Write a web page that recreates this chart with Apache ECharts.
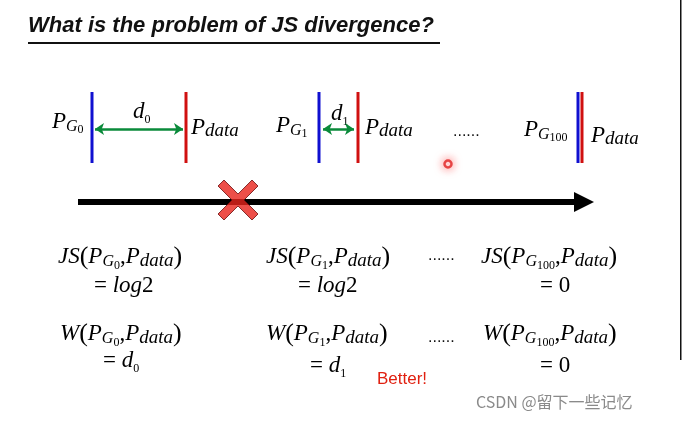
<!DOCTYPE html>
<html><head><meta charset="utf-8">
<script src="https://cdn.jsdelivr.net/npm/echarts@6/dist/echarts.min.js"></script>
<style>html,body{margin:0;padding:0;background:#fff}#c{width:682px;height:422px}</style>
</head><body><div id="c"></div>
<script>
// Slide geometry expressed as data on a hidden pixel-like scale
const genLineX = [92, 319, 578];
const dataLineX = [186, 358, 582];
const lineYRange = [92, 163];
const distArrows = [[95, 183, 129], [323, 354, 129]];
const mainArrow = [78, 584, 202];
const crossPoint = [[238, 200]];
const markerDot = [[448, 164]];

const chart = echarts.init(document.getElementById('c'));
const serif = '"Liberation Serif","DejaVu Serif",serif';
const series = [];
genLineX.forEach(x => series.push({type:'line',symbol:'none',silent:true,lineStyle:{color:'#1010d0',width:3},data:[[x,lineYRange[0]],[x,lineYRange[1]]]}));
dataLineX.forEach(x => series.push({type:'line',symbol:'none',silent:true,lineStyle:{color:'#d01010',width:3},data:[[x,lineYRange[0]],[x,lineYRange[1]]]}));
series.push({type:'lines',coordinateSystem:'cartesian2d',silent:true,symbol:['arrow','arrow'],symbolSize:9,
  lineStyle:{color:'#0a8a3a',width:2.5,opacity:1},data:distArrows.map(a=>({coords:[[a[0],a[2]],[a[1],a[2]]]}))});
series.push({type:'lines',coordinateSystem:'cartesian2d',silent:true,symbol:['none','triangle'],symbolSize:20,
  lineStyle:{color:'#000',width:6,opacity:1},data:[{coords:[[mainArrow[0],mainArrow[2]],[mainArrow[1],mainArrow[2]]]}]});
series.push({type:'scatter',silent:true,symbol:'path://M3,0 L10,7 L17,0 L20,3 L13,10 L20,17 L17,20 L10,13 L3,20 L0,17 L7,10 L0,3 Z',symbolSize:40,itemStyle:{color:'#e8231c',borderColor:'#6a0c0c',borderWidth:1},data:crossPoint,z:5});
series.push({type:'scatter',silent:true,symbol:'circle',symbolSize:7,itemStyle:{color:'#fff',borderColor:'#e02020',borderWidth:2.5,shadowBlur:10,shadowColor:'rgba(255,60,60,0.8)'},data:markerDot});

const rich = {
  p:{fontFamily:serif,fontStyle:'italic',fontSize:23,color:'#111'},
  s:{fontFamily:serif,fontStyle:'italic',fontSize:16,color:'#111',padding:[10,0,0,0]},
  ss:{fontFamily:serif,fontSize:12,color:'#111',padding:[17,0,0,0]},
  d:{fontFamily:serif,fontStyle:'italic',fontSize:19,color:'#111',padding:[7,0,0,0]},
  n:{fontFamily:serif,fontSize:23,color:'#111'},
  ni:{fontFamily:serif,fontStyle:'italic',fontSize:23,color:'#111'},
  pa:{fontFamily:serif,fontSize:26,color:'#111'}
};
function T(x,y,text){return {type:'text',left:x,top:y,style:{text:text,rich:rich}};}
const PG = i => '{p|P}{s|G}{ss|'+i+'}';
const Pd = '{p|P}{d|data}';
const graphics = [
  {type:'text',left:28,top:15,style:{text:'What is the problem of JS divergence?',font:'italic bold 22px "Liberation Sans",Arial,sans-serif',fill:'#111'}},
  {type:'rect',shape:{x:28,y:42,width:412,height:2},style:{fill:'#111'}},
  {type:'rect',shape:{x:680,y:0,width:1.5,height:360},style:{fill:'#111'}},
  T(52,110,PG('0')), T(191,116,Pd), T(133,100,'{p|d}{ss|0}'),
  T(276,114,PG('1')), T(365,116,Pd), T(331,102,'{p|d}{ss|1}'),
  T(524,118,PG('100')), T(591,124,Pd),
  {type:'text',left:453,top:124,style:{text:'......',font:'16px sans-serif',fill:'#111'}},
  T(58,244,'{ni|JS}{pa|(}'+PG('0')+'{n|,}'+Pd+'{pa|)}'), T(94,274,'{n|= }{ni|log}{n|2}'),
  T(266,244,'{ni|JS}{pa|(}'+PG('1')+'{n|,}'+Pd+'{pa|)}'), T(298,274,'{n|= }{ni|log}{n|2}'),
  T(481,244,'{ni|JS}{pa|(}'+PG('100')+'{n|,}'+Pd+'{pa|)}'), T(540,274,'{n|= 0}'),
  {type:'text',left:428,top:248,style:{text:'......',font:'16px sans-serif',fill:'#111'}},
  T(60,321,'{ni|W}{pa|(}'+PG('0')+'{n|,}'+Pd+'{pa|)}'), T(103,349,'{n|= }{p|d}{ss|0}'),
  T(266,321,'{ni|W}{pa|(}'+PG('1')+'{n|,}'+Pd+'{pa|)}'), T(310,354,'{n|= }{p|d}{ss|1}'),
  T(483,321,'{ni|W}{pa|(}'+PG('100')+'{n|,}'+Pd+'{pa|)}'), T(540,354,'{n|= 0}'),
  {type:'text',left:428,top:330,style:{text:'......',font:'16px sans-serif',fill:'#111'}},
  {type:'text',left:377,top:371,style:{text:'Better!',font:'17px "Liberation Sans",Arial,sans-serif',fill:'#e02010'}},
  {type:'text',left:476,top:394,style:{text:'CSDN @留下一些记忆',font:'16px "Noto Sans CJK SC",sans-serif',fill:'#8a8a8a'}}
];
chart.setOption({
  animation:false,
  grid:{left:0,right:0,top:0,bottom:0},
  xAxis:{type:'value',min:0,max:682,show:false},
  yAxis:{type:'value',min:0,max:422,inverse:true,show:false},
  series:series,
  graphic:graphics
});
</script></body></html>
